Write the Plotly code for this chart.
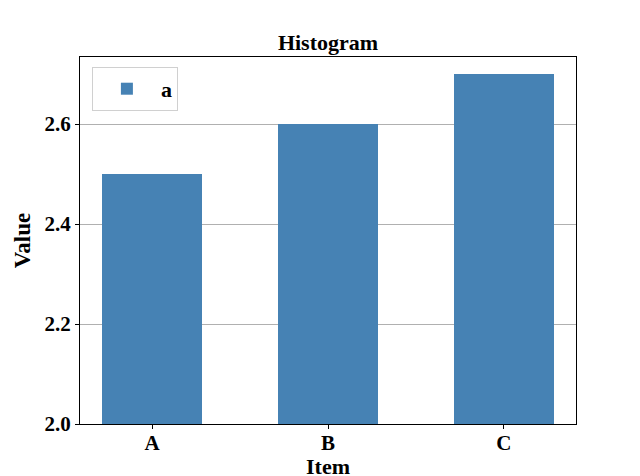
import plotly.graph_objects as go

items = ["A", "B", "C"]
values = [2.5, 2.6, 2.7]
y_ticks = [2.0, 2.2, 2.4, 2.6]

serif = "Liberation Serif, Times New Roman, serif"

fig = go.Figure()
fig.add_trace(go.Bar(x=items, y=values, name="a", width=0.565,
                     marker=dict(color="#4682B4", line=dict(width=0))))

# page body has an 8px margin, so the figure is a bit smaller than the window
fig.update_layout(
    width=632, height=468,
    margin=dict(l=72, r=64, t=49, b=52),
    paper_bgcolor="white", plot_bgcolor="white",
    font=dict(family=serif, size=21, color="black", weight="bold"),
    title=dict(text="Histogram", x=0.5, xref="paper", xanchor="center",
               y=0.927, yref="container", yanchor="middle",
               font=dict(size=22, weight="bold")),
    showlegend=True,
    legend=dict(x=0.024, y=0.973, xanchor="left", yanchor="top",
                bgcolor="white", bordercolor="#d0d0d0", borderwidth=1,
                font=dict(size=22, weight="bold"), itemwidth=58),
    bargap=0,
)
fig.update_xaxes(range=[-0.41, 2.41], showline=True, linecolor="black", linewidth=1,
                 mirror=True, ticks="outside", ticklen=4, tickcolor="black",
                 ticklabelstandoff=-4,
                 showgrid=False, automargin=False)
fig.update_yaxes(range=[2.0, 2.734], tickvals=y_ticks, tickformat=".1f",
                 showline=True, linecolor="black", linewidth=1, mirror=True,
                 ticks="outside", ticklen=4, tickcolor="black",
                 showgrid=True, gridcolor="#b0b0b0", gridwidth=1, zeroline=False,
                 automargin=False,
                 title=dict(text="Value", standoff=7, font=dict(size=23, weight="bold")))

# x title as annotation: the margin is too small for plotly to place it low enough
fig.add_annotation(text="Item", xref="paper", yref="paper", x=0.5, y=0,
                   xanchor="center", yanchor="middle", yshift=-42, showarrow=False,
                   font=dict(size=22, weight="bold"))

fig.write_html("out.html")
